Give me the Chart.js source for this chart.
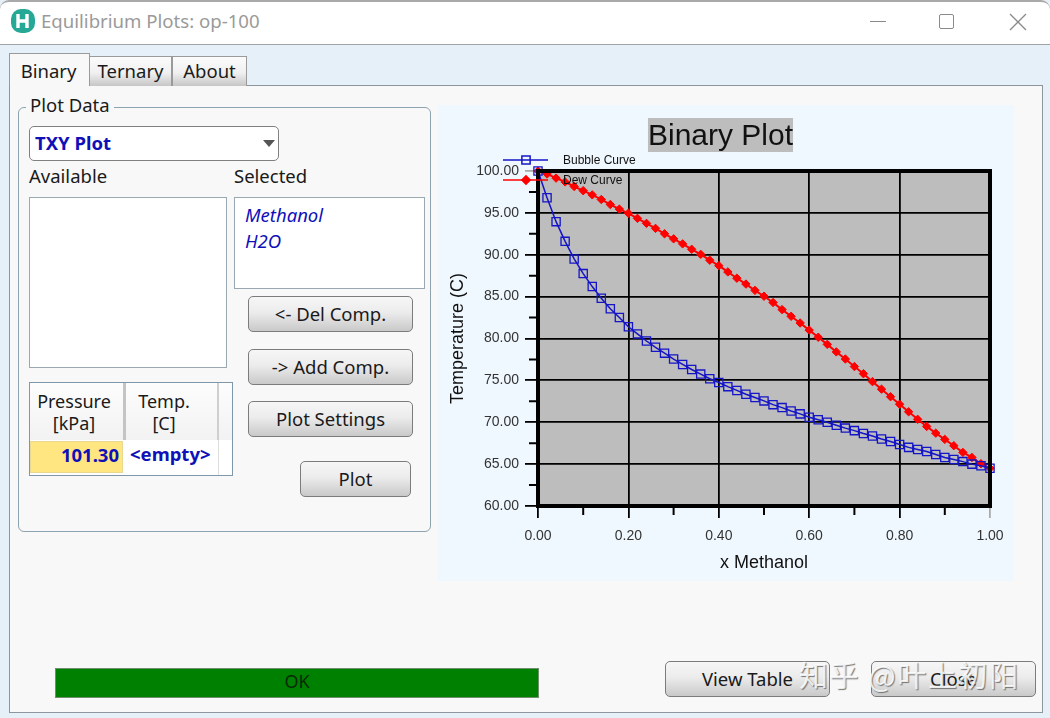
<!DOCTYPE html>
<html>
<head>
<meta charset="utf-8">
<title>Equilibrium Plots: op-100</title>
<script src="https://cdn.jsdelivr.net/npm/chart.js@4"></script>
<style>
  html, body { margin: 0; padding: 0; width: 1050px; height: 718px; overflow: hidden; background: #e6f0f9; }
  body { font-family: "Noto Sans", sans-serif; color: #1a1a1a; position: relative; }
  .a { position: absolute; box-sizing: border-box; }
  .lbl { white-space: nowrap; font-size: 18.5px; line-height: 24px; }
  .btn {
    text-align: center; font-size: 18.5px; border: 1px solid #7c7c7c; border-radius: 5px; padding-bottom: 2px;
    background: linear-gradient(#f6f6f6, #ececec 45%, #c9c9c9);
    display: flex; align-items: center; justify-content: center;
  }
  .tab { font-size: 18.5px; text-align: center; border: 1px solid #9a9a9a; border-bottom: none; }
  .box { background: #fff; border: 1px solid #9aa8b2; }
  #plotChart { position: absolute; left: 438px; top: 105px; }
</style>
</head>
<body>
  <!-- window frame -->
  <div class="a" style="left:0;top:0;width:1050px;height:45px;background:#fff;border-top:2px solid #a9a9a9;border-bottom:1px solid #9ea3a8;border-radius:9px 9px 0 0"></div>
  <svg class="a" style="left:10px;top:8px" width="26" height="26">
    <rect x="1" y="1" width="24" height="24" rx="10" fill="#25a895"/>
    <path d="M8 6V20M17 6V20M8 13H17" stroke="#fff" stroke-width="3.4" fill="none"/>
  </svg>
  <div class="a lbl" style="left:41px;top:9px;font-size:18.6px;color:#9a9a9a">Equilibrium Plots: op-100</div>
  <div class="a" style="left:870px;top:21px;width:16px;height:1px;background:#8a8a8a"></div>
  <div class="a" style="left:939px;top:14px;width:15px;height:15px;border:1.5px solid #8a8a8a;border-radius:2px"></div>
  <svg class="a" style="left:1009px;top:13px" width="18" height="18"><path d="M1 1L17 17M17 1L1 17" stroke="#8a8a8a" stroke-width="1.3"/></svg>

  <!-- tab pane -->
  <div class="a" style="left:9px;top:85px;width:1034px;height:628px;background:#f8f8f8;border:1px solid #8d969c"></div>
  <div class="a tab" style="left:9px;top:53px;width:81px;height:33px;background:#f8f8f8;line-height:33px;padding-right:2px">Binary</div>
  <div class="a tab" style="left:89px;top:56px;width:83px;height:30px;line-height:28px;background:linear-gradient(#fbfbfb,#f0f0f0 55%,#c6c6c6)">Ternary</div>
  <div class="a tab" style="left:172px;top:56px;width:75px;height:30px;line-height:28px;background:linear-gradient(#fbfbfb,#f0f0f0 55%,#c6c6c6)">About</div>

  <!-- plot data group -->
  <div class="a" style="left:18px;top:107px;width:413px;height:425px;border:1.5px solid #8ea3b0;border-radius:6px"></div>
  <div class="a lbl" style="left:26px;top:93px;padding:0 4px;background:#f8f8f8">Plot Data</div>
  <div class="a" style="left:29px;top:126px;width:250px;height:35px;background:#fff;border:1.5px solid #808080;border-radius:5px"></div>
  <div class="a lbl" style="left:35px;top:131px;color:#1010b8;font-weight:700">TXY Plot</div>
  <svg class="a" style="left:262px;top:140px" width="14" height="8"><path d="M1 0L13 0L7 7Z" fill="#555"/></svg>
  <div class="a lbl" style="left:29px;top:164px">Available</div>
  <div class="a lbl" style="left:234px;top:164px">Selected</div>
  <div class="a box" style="left:29px;top:197px;width:198px;height:171px"></div>
  <div class="a box" style="left:234px;top:197px;width:191px;height:92px"></div>
  <div class="a lbl" style="left:245px;top:203px;color:#1010b8;font-style:italic">Methanol</div>
  <div class="a lbl" style="left:245px;top:229px;color:#1010b8;font-style:italic">H2O</div>
  <div class="a btn" style="left:248px;top:296px;width:165px;height:36px">&lt;- Del Comp.</div>
  <div class="a btn" style="left:248px;top:349px;width:165px;height:36px">-&gt; Add Comp.</div>
  <div class="a btn" style="left:248px;top:401px;width:165px;height:36px">Plot Settings</div>
  <div class="a btn" style="left:300px;top:461px;width:111px;height:36px">Plot</div>

  <!-- pressure / temp table -->
  <div class="a" style="left:29px;top:382px;width:204px;height:94px;background:#fff;border:1px solid #7f97ab"></div>
  <div class="a" style="left:30px;top:383px;width:96px;height:57px;background:linear-gradient(#fdfdfd,#f2f2f2);border-right:3px solid #c4c4c4"></div>
  <div class="a" style="left:126px;top:383px;width:93px;height:57px;background:linear-gradient(#fdfdfd,#f2f2f2);border-right:2px solid #cfcfcf"></div>
  <div class="a" style="left:219px;top:383px;width:13px;height:57px;background:linear-gradient(#fdfdfd,#f2f2f2)"></div>
  <div class="a" style="left:218px;top:440px;width:1px;height:35px;background:#ddd"></div>
  <div class="a lbl" style="left:30px;top:390px;width:88px;text-align:center;line-height:22px;font-size:18px">Pressure<br>[kPa]</div>
  <div class="a lbl" style="left:120px;top:390px;width:88px;text-align:center;line-height:22px;font-size:18px">Temp.<br>[C]</div>
  <div class="a lbl" style="left:30px;top:441px;width:93px;height:32px;background:#ffe680;border:1px solid #e8d890;color:#1010b8;font-weight:700;text-align:right;line-height:25px;padding-right:3px">101.30</div>
  <div class="a lbl" style="left:130px;top:442px;color:#1010b8;font-weight:700;font-size:18.5px">&lt;empty&gt;</div>

  <!-- bottom row -->
  <div class="a" style="left:55px;top:668px;width:484px;height:30px;background:#008000;border:1px solid #6f8f6f;text-align:center;font-size:18px;line-height:25px;color:#062a06">OK</div>
  <div class="a btn" style="left:665px;top:661px;width:165px;height:36px">View Table</div>
  <div class="a btn" style="left:871px;top:661px;width:165px;height:36px">Close</div>

  <!-- chart -->
  <div class="a" style="left:438px;top:105px;width:576px;height:476px;background:#f0f8ff"></div>
  <canvas id="plotChart" width="565" height="476"></canvas>

  <div class="a" style="left:799px;top:654px;font-family:'Noto Sans CJK SC';font-size:29px;line-height:40px;letter-spacing:1.6px;white-space:nowrap;color:rgba(255,255,255,.85);text-shadow:1px 1px 1px rgba(90,90,90,.8)">知乎 @叶上初阳</div>

<script>
const xMethanol = [0, 0.02, 0.04, 0.06, 0.08, 0.1, 0.12, 0.14, 0.16, 0.18, 0.2, 0.22, 0.24, 0.26, 0.28, 0.3, 0.32, 0.34, 0.36, 0.38, 0.4, 0.42, 0.44, 0.46, 0.48, 0.5, 0.52, 0.54, 0.56, 0.58, 0.6, 0.62, 0.64, 0.66, 0.68, 0.7, 0.72, 0.74, 0.76, 0.78, 0.8, 0.82, 0.84, 0.86, 0.88, 0.9, 0.92, 0.94, 0.96, 0.98, 1]
const bubbleTemp = [100, 96.8, 93.95, 91.6, 89.5, 87.75, 86.2, 84.8, 83.55, 82.5, 81.4, 80.55, 79.7, 78.95, 78.25, 77.55, 76.9, 76.3, 75.75, 75.2, 74.75, 74.25, 73.8, 73.35, 72.95, 72.55, 72.1, 71.75, 71.35, 71, 70.6, 70.3, 70, 69.65, 69.3, 69, 68.65, 68.35, 68, 67.7, 67.35, 67, 66.75, 66.5, 66.15, 65.8, 65.55, 65.3, 65, 64.8, 64.5]
const dewTemp = [100, 99.65, 99.15, 98.7, 98.15, 97.65, 97.15, 96.6, 96, 95.45, 94.95, 94.35, 93.75, 93.15, 92.5, 91.9, 91.3, 90.65, 90.05, 89.35, 88.7, 87.95, 87.2, 86.5, 85.75, 85.05, 84.3, 83.45, 82.65, 81.85, 81, 80.15, 79.3, 78.4, 77.55, 76.65, 75.8, 74.85, 73.95, 73.05, 72.15, 71.25, 70.35, 69.5, 68.7, 67.95, 67.2, 66.4, 65.8, 65.05, 64.5]
const xMinorTicks = [0.1, 0.3, 0.5, 0.7, 0.9]
const yMinorTicks = [62.5, 67.5, 72.5, 77.5, 82.5, 87.5, 92.5, 97.5]

const BLUE = '#1414c8'
const RED = '#ff0000'

// grey plot background and the title's grey box
const plotBack = {
  id: 'plotBack',
  beforeDraw(chart) {
    const { ctx, chartArea: a, titleBlock: t } = chart
    ctx.save()
    ctx.fillStyle = '#bdbdbd'
    ctx.fillRect(a.left, a.top, a.right - a.left, a.bottom - a.top)
    ctx.font = '30px "Liberation Sans"'
    const w = ctx.measureText(t.options.text).width
    ctx.fillRect((t.left + t.right) / 2 - w / 2, t.top + 13, w, 34)
    ctx.restore()
  }
}

// frame, short minor ticks and the legend with line + marker samples
const plotFront = {
  id: 'plotFront',
  afterDatasetsDraw(chart) {
    const { ctx, chartArea: a, scales } = chart
    ctx.save()
    ctx.strokeStyle = '#000'
    ctx.lineWidth = 2
    ctx.beginPath()
    xMinorTicks.forEach(v => {
      const px = scales.x.getPixelForValue(v)
      ctx.moveTo(px, a.bottom)
      ctx.lineTo(px, a.bottom + 9)
    })
    yMinorTicks.forEach(v => {
      const py = scales.y.getPixelForValue(v)
      ctx.moveTo(a.left, py)
      ctx.lineTo(a.left - 9, py)
    })
    ctx.stroke()
    ctx.lineWidth = 4
    ctx.strokeRect(a.left, a.top, a.right - a.left, a.bottom - a.top)
    ctx.restore()
  },
  afterDraw(chart) {
    const ctx = chart.ctx
    const rows = [
      { ds: chart.data.datasets[0], y: 55 },
      { ds: chart.data.datasets[1], y: 75 }
    ]
    ctx.save()
    ctx.font = '12px "Liberation Sans"'
    ctx.textBaseline = 'middle'
    rows.forEach(r => {
      ctx.strokeStyle = r.ds.borderColor
      ctx.fillStyle = r.ds.pointBackgroundColor
      ctx.lineWidth = 1.5
      ctx.beginPath()
      ctx.moveTo(65, r.y)
      ctx.lineTo(110, r.y)
      ctx.stroke()
      Chart.helpers.drawPoint(ctx, { pointStyle: r.ds.pointStyle, radius: r.ds.pointRadius, borderWidth: 1.5, rotation: 0 }, 88, r.y)
      ctx.fillStyle = '#111'
      ctx.fillText(r.ds.label, 125, r.y + 1)
    })
    ctx.restore()
  }
}

new Chart(document.getElementById('plotChart'), {
  type: 'line',
  plugins: [plotBack, plotFront],
  data: {
    datasets: [{
      label: 'Bubble Curve',
      data: xMethanol.map((x, i) => ({ x: x, y: bubbleTemp[i] })),
      borderColor: BLUE,
      borderWidth: 1.5,
      pointStyle: 'rect',
      pointRadius: 5.8,
      pointBorderWidth: 1.3,
      pointBorderColor: BLUE,
      pointBackgroundColor: 'transparent',
      clip: false
    }, {
      label: 'Dew Curve',
      data: xMethanol.map((x, i) => ({ x: x, y: dewTemp[i] })),
      borderColor: RED,
      borderWidth: 2,
      pointStyle: 'rectRot',
      pointRadius: 4.2,
      pointBorderWidth: 1,
      pointBorderColor: RED,
      pointBackgroundColor: RED,
      clip: false
    }]
  },
  options: {
    responsive: false,
    animation: false,
    devicePixelRatio: 1,
    plugins: {
      legend: { display: false },
      tooltip: { enabled: false },
      title: {
        display: true,
        text: 'Binary Plot',
        color: '#111',
        font: { family: '"Liberation Sans"', size: 30, weight: 'normal', lineHeight: 1.2 },
        padding: { top: 14, bottom: 16 }
      }
    },
    scales: {
      x: {
        type: 'linear',
        min: 0,
        max: 1,
        // keep the plot area where it is in the original, whatever the labels need
        afterFit(scale) {
          scale.height = 75
          scale.paddingLeft = 0
          scale.paddingRight = 13
        },
        grid: {
          color: '#000',
          lineWidth: 1.8,
          tickColor: ctx => ctx.tick.value === 1 ? '#aaa' : '#000',
          tickLength: 12
        },
        border: { display: false },
        ticks: {
          stepSize: 0.2,
          maxRotation: 0,
          padding: 10,
          color: '#333',
          font: { family: '"Liberation Sans"', size: 14 },
          callback: v => v.toFixed(2)
        },
        title: {
          display: true,
          text: 'x Methanol',
          color: '#111',
          font: { family: '"Liberation Sans"', size: 18 },
          padding: { top: 0, bottom: 7 }
        }
      },
      y: {
        min: 60,
        max: 100,
        afterFit(scale) {
          scale.width = 100
          scale.paddingTop = 0
          scale.paddingBottom = 0
        },
        grid: {
          color: '#000',
          lineWidth: 1.8,
          tickColor: ctx => ctx.tick.value === 100 ? '#aaa' : '#000',
          tickLength: 13
        },
        border: { display: false },
        ticks: {
          stepSize: 5,
          padding: 6,
          color: '#333',
          font: { family: '"Liberation Sans"', size: 14 },
          callback: v => v.toFixed(2)
        },
        title: {
          display: true,
          text: 'Temperature (C)',
          color: '#111',
          font: { family: '"Liberation Sans"', size: 18 },
          padding: { top: 9, bottom: 0 }
        }
      }
    }
  }
})
</script>
</body>
</html>
